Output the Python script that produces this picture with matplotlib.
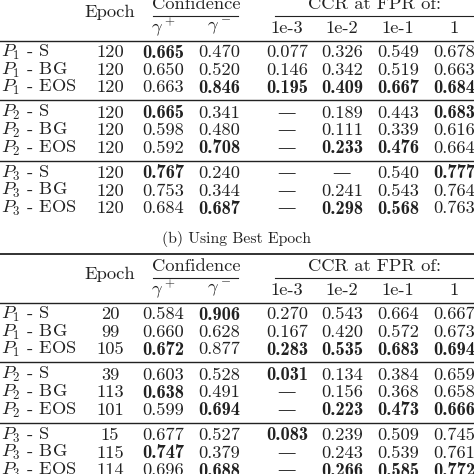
import matplotlib
matplotlib.use("Agg")
import matplotlib.pyplot as plt

plt.rcParams['mathtext.fontset'] = 'cm'
plt.rcParams['axes.unicode_minus'] = False

row_labels = [r'$P_1$ - S', r'$P_1$ - BG', r'$P_1$ - EOS',
              r'$P_2$ - S', r'$P_2$ - BG', r'$P_2$ - EOS',
              r'$P_3$ - S', r'$P_3$ - BG', r'$P_3$ - EOS']
col_sub = [r'$\gamma^+$', r'$\gamma^-$', '1e-3', '1e-2', '1e-1', '1']

epoch_a = ['120'] * 9
vals_a = [
    ['0.665', '0.470', '0.077', '0.326', '0.549', '0.678'],
    ['0.650', '0.520', '0.146', '0.342', '0.519', '0.663'],
    ['0.663', '0.846', '0.195', '0.409', '0.667', '0.684'],
    ['0.665', '0.341', '—', '0.189', '0.443', '0.683'],
    ['0.598', '0.480', '—', '0.111', '0.339', '0.616'],
    ['0.592', '0.708', '—', '0.233', '0.476', '0.664'],
    ['0.767', '0.240', '—', '—', '0.540', '0.777'],
    ['0.753', '0.344', '—', '0.241', '0.543', '0.764'],
    ['0.684', '0.687', '—', '0.298', '0.568', '0.763'],
]
bold_a = [
    [1, 0, 0, 0, 0, 0], [0, 0, 0, 0, 0, 0], [0, 1, 1, 1, 1, 1],
    [1, 0, 0, 0, 0, 1], [0, 0, 0, 0, 0, 0], [0, 1, 0, 1, 1, 0],
    [1, 0, 0, 0, 0, 1], [0, 0, 0, 0, 0, 0], [0, 1, 0, 1, 1, 0],
]
epoch_b = ['20', '99', '105', '39', '113', '101', '15', '115', '114']
vals_b = [
    ['0.584', '0.906', '0.270', '0.543', '0.664', '0.667'],
    ['0.660', '0.628', '0.167', '0.420', '0.572', '0.673'],
    ['0.672', '0.877', '0.283', '0.535', '0.683', '0.694'],
    ['0.603', '0.528', '0.031', '0.134', '0.384', '0.659'],
    ['0.638', '0.491', '—', '0.156', '0.368', '0.658'],
    ['0.599', '0.694', '—', '0.223', '0.473', '0.666'],
    ['0.677', '0.527', '0.083', '0.239', '0.509', '0.745'],
    ['0.747', '0.379', '—', '0.243', '0.539', '0.761'],
    ['0.696', '0.688', '—', '0.266', '0.585', '0.772'],
]
bold_b = [
    [0, 1, 0, 0, 0, 0], [0, 0, 0, 0, 0, 0], [1, 0, 1, 1, 1, 1],
    [0, 0, 1, 0, 0, 0], [1, 0, 0, 0, 0, 0], [0, 1, 0, 1, 1, 1],
    [0, 0, 1, 0, 0, 0], [1, 0, 0, 0, 0, 0], [0, 1, 0, 1, 1, 1],
]
caption = '(b) Using Best Epoch'

fig = plt.figure(figsize=(4.74, 4.74), dpi=100)
ax = fig.add_axes([0, 0, 1, 1])
ax.set_xlim(0, 474)
ax.set_ylim(474, 0)
ax.axis('off')

FS = 13.3
col_x = [163, 219, 287, 342, 398, 454]
C = '#222222'
REG = ['cmr10', 'DejaVu Serif']
BLD = ['cmb10', 'DejaVu Serif']

def txt(x, y, s, bold=False, ha='center', fs=FS):
    ax.text(x, y, s, ha=ha, va='center', fontsize=fs, color=C,
            family=BLD if bold else REG)

def table(y0, epochs, vals, bold, top_rule):
    if top_rule is not None:
        ax.plot([0, 474], [top_rule, top_rule], color=C, lw=1.3)
    txt(196, y0 - 8, 'Confidence')
    txt(375, y0 - 8, 'CCR at FPR of:')
    txt(110, y0, 'Epoch')
    ax.plot([153, 238], [y0 + 4, y0 + 4], color=C, lw=0.8)
    ax.plot([275, 474], [y0 + 4, y0 + 4], color=C, lw=0.8)
    for x, s in zip(col_x, col_sub):
        txt(x, y0 + 16, s)
    ax.plot([0, 474], [y0 + 28.5, y0 + 28.5], color=C, lw=1.0)
    y = y0 + 40.5
    for g in range(3):
        if g > 0:
            ax.plot([0, 474], [y - 12.5, y - 12.5], color=C, lw=1.0)
        for r in range(3):
            i = g * 3 + r
            txt(1, y, row_labels[i], ha='left')
            txt(110, y, epochs[i])
            for j, x in enumerate(col_x):
                txt(x, y, vals[i][j], bold=bool(bold[i][j]))
            y += 17.6
        y += 7.6

table(12, epoch_a, vals_a, bold_a, None)
txt(237, 239, caption, fs=FS * 0.85)
table(274, epoch_b, vals_b, bold_b, 254)

fig.savefig('out.png', dpi=100)
